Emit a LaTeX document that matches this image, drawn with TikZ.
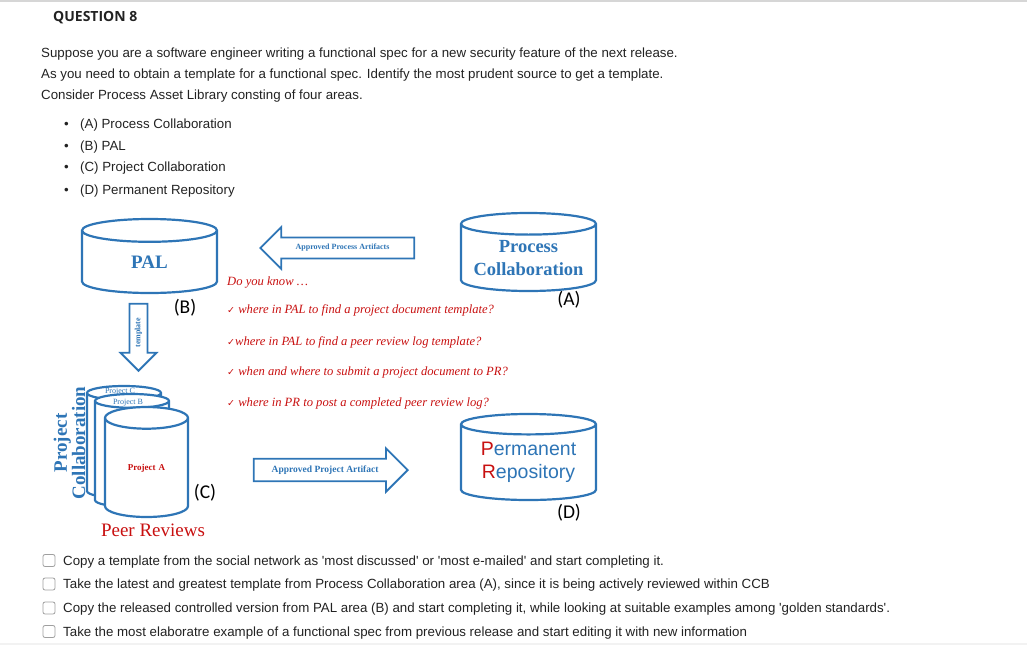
\documentclass[tikz,border=0pt]{standalone}
\usepackage{fontspec}
\setmainfont{Liberation Serif}
\setsansfont{Liberation Sans}
\newfontfamily\headfont{Open Sans}
\newfontfamily\tagfont{Carlito}
\newfontfamily\symfont{DejaVu Sans}
\usetikzlibrary{shapes.geometric, shapes.arrows, positioning}

\definecolor{palblue}{RGB}{46,117,182}
\definecolor{palred}{RGB}{200,16,16}
\definecolor{qtext}{RGB}{34,34,34}
\definecolor{rulegray}{RGB}{214,214,214}
\newcommand\askmark{{\symfont\fontsize{9.5}{10}\selectfont ✓}}

\begin{document}
\begin{tikzpicture}[x=1pt, y=-1pt,
    line/.style={anchor=base west, inner sep=0pt, text=qtext,
                 font=\sffamily\fontsize{13.3}{15}\selectfont},
    chk/.style={draw=gray!75, rounded corners=2pt, minimum size=12pt,
                inner sep=0pt, line width=0.8pt},
    db/.style={cylinder, shape border rotate=90, draw=palblue, line width=2.2pt,
               fill=white, align=center, inner sep=0pt},
    blockarr/.style={single arrow, draw=palblue, line width=1.8pt, fill=white,
               single arrow head extend=10.5pt, single arrow tip angle=90,
               inner xsep=0pt, inner ysep=6pt, text=palblue},
    tag/.style={font=\tagfont\fontsize{19.5}{20}\selectfont, inner sep=0pt},
    ask/.style={anchor=base west, inner sep=0pt, text=palred,
                font=\itshape\fontsize{12.6}{14}\selectfont}
  ]
    \useasboundingbox (0,0) rectangle (1027,645);
    \draw[rulegray, line width=2pt] (0,1) -- (1027,1);
    \draw[gray!10, line width=2pt] (0,644) -- (1027,644);

    % question text
    \node[anchor=base west, inner sep=0pt, text=qtext,
          font=\headfont\bfseries\fontsize{14}{16}\selectfont] (title) at (53,21.5) {QUESTION 8};
    \node[line] (intro1) at (41,57) {Suppose you are a software engineer writing a functional spec for a new security feature of the next release.};
    \node[line] (intro2) at (41,78.3) {As you need to obtain a template for a functional spec. Identify the most prudent source to get a template.};
    \node[line] (intro3) at (41,99.3) {Consider Process Asset Library consting of four areas.};
    \foreach \y/\t [count=\i] in {128.3/{(A) Process Collaboration}, 150/{(B) PAL},
                                  171.7/{(C) Project Collaboration}, 194/{(D) Permanent Repository}} {
      \node[line] (dot\i) at (64,\y) {\textbullet};
      \node[line] (area\i) at (80,\y) {\t};
    }

    % the four areas
    \node[db, text width=120pt, minimum width=135pt, minimum height=74pt, aspect=0.19,
          anchor=shape center, font=\bfseries\fontsize{19}{20}\selectfont,
          text=palblue] (pal) at (149.5,256) {PAL};
    \node[db, text width=120pt, minimum width=135pt, minimum height=78pt, aspect=0.18,
          anchor=shape center, font=\bfseries\fontsize{18.5}{23}\selectfont,
          text=palblue] (proc) at (528.5,252) {Process\\Collaboration};
    \node[db, text width=120pt, minimum width=135pt, minimum height=86pt, aspect=0.17,
          anchor=shape center, font=\sffamily\fontsize{19.5}{23}\selectfont,
          text=palblue] (perm) at (528.5,457) {{\color{palred}P}ermanent\\{\color{palred}R}epository};

    \node[db, text width=60pt, minimum width=74pt, minimum height=112pt, aspect=0.23,
          anchor=shape center] (projc) at (124,442) {};
    \node[db, text width=60pt, minimum width=74pt, minimum height=113pt, aspect=0.23,
          anchor=shape center] (projb) at (132,450.5) {};
    \node[db, text width=70pt, minimum width=83pt, minimum height=110pt, aspect=0.31,
          anchor=shape center, font=\bfseries\fontsize{9}{10}\selectfont,
          text=palred] (proja) at (146.5,462) {Project A};
    \node[inner sep=0pt, text=palblue, font=\fontsize{8}{9}\selectfont] (lblc) at (120,392) {Project C};
    \node[inner sep=0pt, text=palblue, font=\fontsize{8}{9}\selectfont] (lblb) at (128,403) {Project B};

    \node[rotate=90, align=center, inner sep=0pt, text=palblue,
          font=\bfseries\fontsize{19}{16}\selectfont] (projcollab) at (69.5,443) {Project\\Collaboration};
    \node[inner sep=0pt, text=palred, font=\fontsize{19}{20}\selectfont] (peer) at (153,530) {Peer Reviews};

    \node[tag] (tagb) at (185,308) {(B)};
    \node[tag] (tagc) at (205,493) {(C)};
    \node[tag] (taga) at (569,300) {(A)};
    \node[tag] (tagd) at (569,513) {(D)};

    % block arrows
    \node[blockarr, shape border rotate=180, minimum height=154pt,
          font=\bfseries\fontsize{8}{9}\selectfont,
          anchor=tip] (procart) at (259,248) {Approved Process Artifacts};
    \node[blockarr, minimum height=154pt, font=\bfseries\fontsize{9.5}{10}\selectfont,
          anchor=tip] (projart) at (409,470) {Approved Project Artifact};
    \node[blockarr, rotate=90, shape border rotate=180, minimum height=67pt,
          inner ysep=4.5pt, single arrow head extend=9pt,
          font=\bfseries\fontsize{8}{9}\selectfont,
          anchor=tip] (tmpl) at (138.5,372) {template};

    % questions in the middle
    \node[ask] (know) at (227,285.5) {Do you know \dots};
    \node[ask] (q1) at (227,313.5) {\askmark{} where in PAL to find a project document template?};
    \node[ask] (q2) at (227,345.5) {\askmark where in PAL to find a peer review log template?};
    \node[ask] (q3) at (227,375.5) {\askmark{} when and where to submit a project document to PR?};
    \node[ask] (q4) at (227,406.5) {\askmark{} where in PR to post a completed peer review log?};

    % answer choices
    \node[chk] (box1) at (49,560.5) {};
    \node[chk] (box2) at (49,584) {};
    \node[chk] (box3) at (49,608) {};
    \node[chk] (box4) at (49,631.5) {};
    \node[line] (opt1) at (63,565) {Copy a template from the social network as \textquotesingle most discussed\textquotesingle\ or \textquotesingle most e-mailed\textquotesingle\ and start completing it.};
    \node[line] (opt2) at (63,588.5) {Take the latest and greatest template from Process Collaboration area (A), since it is being actively reviewed within CCB};
    \node[line] (opt3) at (63,612.5) {Copy the released controlled version from PAL area (B) and start completing it, while looking at suitable examples among \textquotesingle golden standards\textquotesingle .};
    \node[line] (opt4) at (63,636) {Take the most elaboratre example of a functional spec from previous release and start editing it with new information};
\end{tikzpicture}
\end{document}
